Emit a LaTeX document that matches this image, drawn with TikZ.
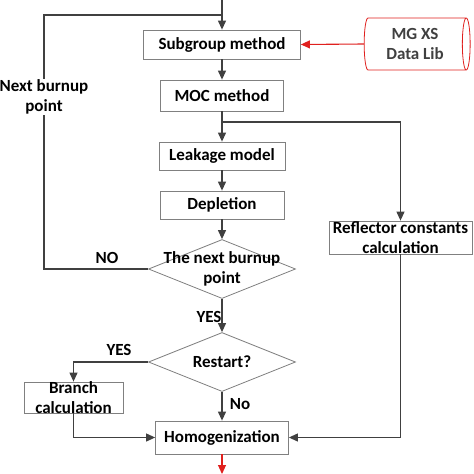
\documentclass[tikz,border=0pt]{standalone}
\usepackage{fontspec}
\setmainfont{Carlito}
\usetikzlibrary{shapes.geometric,arrows.meta}
\definecolor{lineC}{HTML}{404040}
\definecolor{boxC}{HTML}{808080}
\definecolor{redC}{HTML}{E0201E}
\tikzset{
  box/.style={draw=boxC, line width=0.8pt, rectangle, inner sep=0pt, align=center, font=\fontsize{17}{20}\selectfont\bfseries},
  dia/.style={draw=boxC, line width=0.8pt, diamond, inner sep=0pt, font=\fontsize{17}{20}\selectfont\bfseries},
  conn/.style={draw=lineC, line width=1.1pt, -{Triangle[length=9pt,width=8pt]}},
  plain/.style={draw=lineC, line width=1.1pt},
  redconn/.style={draw=redC, line width=1.1pt, -{Triangle[length=9pt,width=8pt]}},
  lbl/.style={font=\fontsize{17}{20}\selectfont\bfseries, inner sep=1pt, align=center}
}
\begin{document}
\begin{tikzpicture}[x=1pt,y=-1pt]
\useasboundingbox (0,0) rectangle (474,474);
\fill[white] (0,0) rectangle (474,474);
\coordinate (top) at (222,0);
\coordinate (bottom) at (222,474);
\node[box, minimum width=157pt, minimum height=29pt] (sub) at (222,44.5) {Subgroup method};
\node[draw=redC, line width=0.8pt, cylinder, shape aspect=0.25, minimum width=52pt, minimum height=106pt, inner sep=0pt, align=center, font=\fontsize{17}{20}\selectfont\bfseries, text=black!75] (lib) at (415,44) {MG XS\\Data Lib};
\node[box, minimum width=123pt, minimum height=31pt] (moc) at (222,95.5) {MOC method};
\node[box, minimum width=126pt, minimum height=28pt] (leak) at (222,156) {Leakage model};
\node[box, minimum width=124pt, minimum height=28pt] (depl) at (222,205) {Depletion};
\node[dia, minimum width=147pt, minimum height=59pt, label={[lbl,align=center]center:The next burnup\\point}] (d1) at (222,269) {};
\node[box, minimum width=143pt, minimum height=33pt, label={[lbl]center:Reflector constants\\calculation}] (refl) at (400.5,237.5) {};
\node[dia, minimum width=147pt, minimum height=59pt, label={[lbl]center:Restart?}] (d2) at (222,362) {};
\node[box, minimum width=99pt, minimum height=31pt, label={[lbl]center:Branch\\calculation}] (branch) at (73.5,397.5) {};
\node[box, minimum width=133pt, minimum height=33pt] (homo) at (222,437.5) {Homogenization};

% loop back
\draw[plain] (d1.west) -- (44,269) -- (44,15) -- (222,15);
\node[lbl, fill=white] (nbp) at (44,97) {Next burnup\\point};
\node[lbl] (no1) at (107,258) {NO};

\draw[conn] (top) -- (sub.north);
\draw[redconn] (lib.west) -- (sub.east);
\draw[conn] (sub.south) -- (moc.north);
\draw[conn] (moc.south) -- (leak.north);
\draw[conn] (222,122) -- (400.5,122) -- (refl.north);
\draw[conn] (leak.south) -- (depl.north);
\draw[conn] (depl.south) -- (d1.north);
\draw[conn] (d1.south) -- (d2.north);
\node[lbl] (yes1) at (209,317) {YES};
\draw[conn] (d2.west) -| (branch.north);
\node[lbl] (yes2) at (119,350) {YES};
\draw[conn] (d2.south) -- (homo.north);
\node[lbl] (no2) at (240,404) {No};
\draw[conn] (branch.south) |- (homo.west);
\draw[conn] (refl.south) |- (homo.east);
\draw[redconn] (homo.south) -- (bottom);
\end{tikzpicture}
\end{document}
